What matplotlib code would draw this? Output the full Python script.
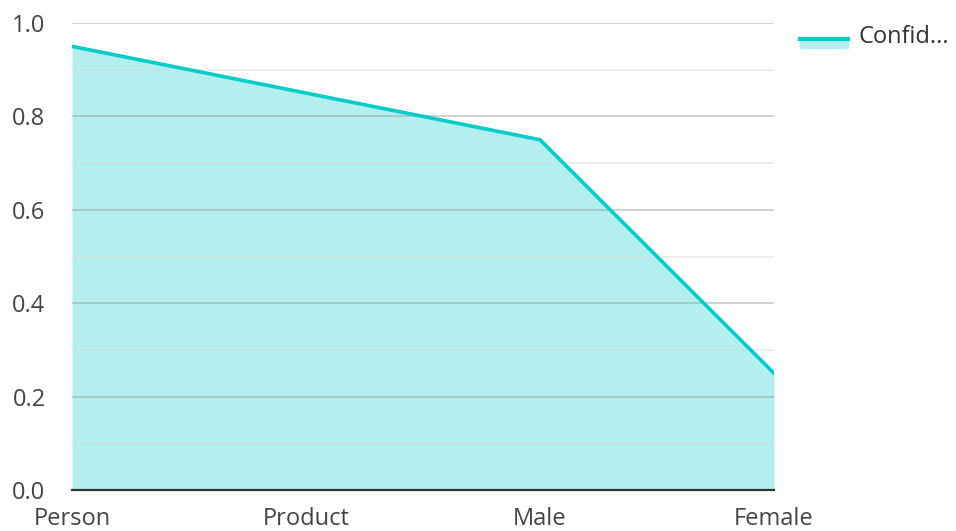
import matplotlib
matplotlib.use("Agg")
import matplotlib.pyplot as plt
from matplotlib.patches import Rectangle
from matplotlib.lines import Line2D
import numpy as np

categories = ["Person", "Product", "Male", "Female"]
confidence = [0.95, 0.85, 0.75, 0.25]
series_name = "Confid..."

line_color = "#00cccc"
fill_color = "#b2efee"
text_color = "#444444"

plt.rcParams['font.family'] = ['Open Sans', 'DejaVu Sans']

fig = plt.figure(figsize=(9.56, 5.31), dpi=100)
ax = fig.add_axes([72 / 956, 1 - 490 / 531, (774 - 72) / 956, (490 - 23) / 531])

x = np.arange(len(categories))
ax.fill_between(x, confidence, 0, color=fill_color, zorder=1, linewidth=0)
ax.plot(x, confidence, color=line_color, linewidth=2.6, zorder=3,
        solid_joinstyle='miter')

# grid drawn over the fill
for v in np.arange(0.1, 1.01, 0.1):
    major = abs(round(v * 10) % 2) < 1e-9
    ax.axhline(v, color="#9e9e9e" if major else "#dadada",
               linewidth=1.1, alpha=0.6, zorder=2)

ax.set_xlim(0, len(categories) - 1)
ax.set_ylim(0, 1.0)
ax.set_xticks(x)
ax.set_xticklabels(categories)
ax.set_yticks([0, 0.2, 0.4, 0.6, 0.8, 1.0])
ax.set_yticklabels(["0.0", "0.2", "0.4", "0.6", "0.8", "1.0"])
ax.tick_params(axis='both', length=0, labelsize=17, colors=text_color)
ax.tick_params(axis='x', pad=12)
ax.tick_params(axis='y', pad=19)
for lbl in ax.get_yticklabels():
    lbl.set_horizontalalignment('right')

for side in ['top', 'right', 'left']:
    ax.spines[side].set_visible(False)
ax.spines['bottom'].set_color("#333333")
ax.spines['bottom'].set_linewidth(1.6)
ax.spines['bottom'].set_zorder(4)

# legend swatch
fig.patches.append(Rectangle((800 / 956, 1 - 48 / 531), 48 / 956, 11 / 531,
                             transform=fig.transFigure, color=fill_color))
fig.lines.append(Line2D([800 / 956, 848 / 956], [1 - 39 / 531, 1 - 39 / 531],
                        transform=fig.transFigure, color=line_color, linewidth=3))
fig.text(858 / 956, 1 - 37 / 531, series_name, fontsize=17, color="#333333",
         va='center', ha='left')

fig.savefig("out.png", dpi=100, facecolor="white")
